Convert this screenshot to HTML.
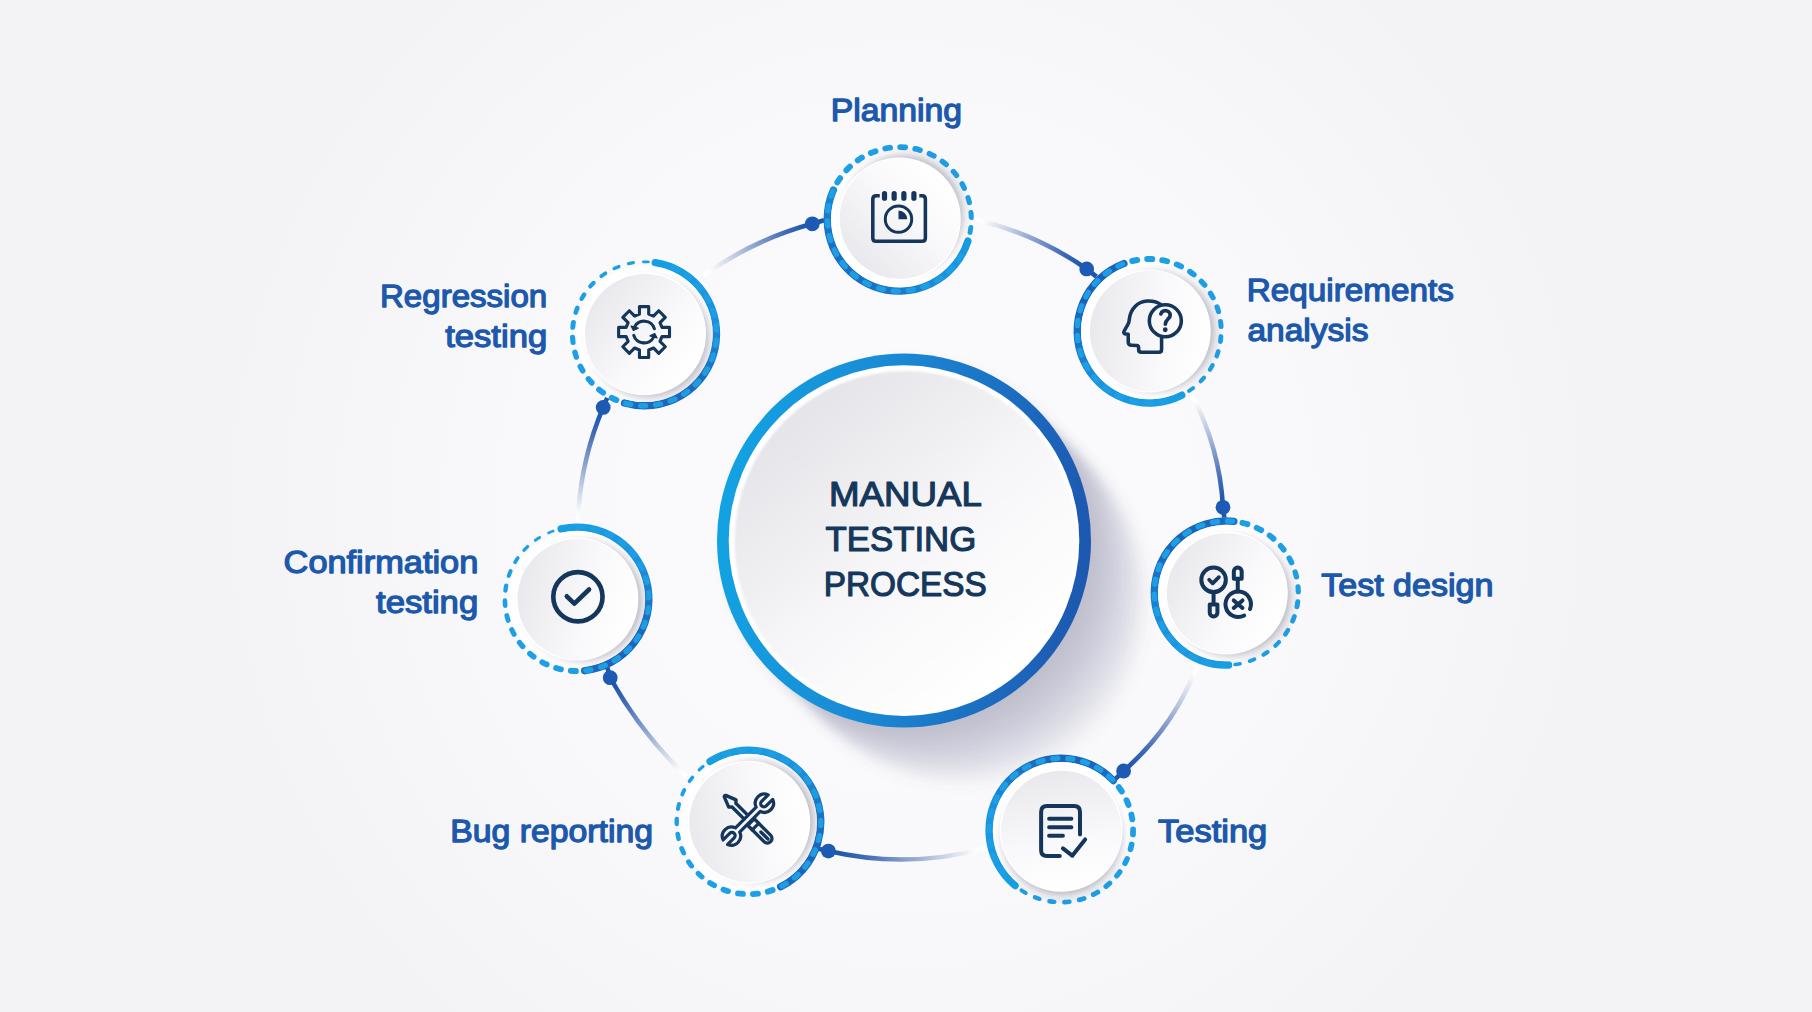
<!DOCTYPE html>
<html lang="en"><head><meta charset="utf-8"><title>Manual testing process</title>
<style>html,body{margin:0;padding:0;background:#f5f5f8;overflow:hidden}svg{display:block}text{font-family:"Liberation Sans",sans-serif;font-weight:400;stroke-linejoin:round}</style></head>
<body><svg width="1812" height="1012" viewBox="0 0 1812 1012"><defs><radialGradient id="bg" cx="906" cy="506" r="700" gradientUnits="userSpaceOnUse">
<stop offset="0" stop-color="#fbfbfd"/><stop offset="0.55" stop-color="#f9f9fb"/><stop offset="1" stop-color="#f3f3f5"/></radialGradient><filter id="dotb" x="-50%" y="-50%" width="200%" height="200%"><feGaussianBlur stdDeviation="0.5"/></filter><linearGradient id="cg0" gradientUnits="userSpaceOnUse" x1="703.7" y1="275.4" x2="812.3" y2="223.8"><stop offset="0" stop-color="#ffffff"/><stop offset="0.07" stop-color="#fbfcfd"/><stop offset="0.16" stop-color="#e4e8f1"/><stop offset="0.28" stop-color="#c6d1e5"/><stop offset="0.5" stop-color="#8aa1cd"/><stop offset="0.77" stop-color="#3f6ab4"/><stop offset="0.93" stop-color="#1f58ad"/><stop offset="1" stop-color="#1d55aa"/></linearGradient><linearGradient id="cg1" gradientUnits="userSpaceOnUse" x1="975.4" y1="219.4" x2="1086.7" y2="268.9"><stop offset="0" stop-color="#ffffff"/><stop offset="0.07" stop-color="#fbfcfd"/><stop offset="0.16" stop-color="#e4e8f1"/><stop offset="0.28" stop-color="#c6d1e5"/><stop offset="0.5" stop-color="#8aa1cd"/><stop offset="0.77" stop-color="#3f6ab4"/><stop offset="0.93" stop-color="#1f58ad"/><stop offset="1" stop-color="#1d55aa"/></linearGradient><linearGradient id="cg2" gradientUnits="userSpaceOnUse" x1="1191.9" y1="395" x2="1223" y2="507.3"><stop offset="0" stop-color="#ffffff"/><stop offset="0.07" stop-color="#fbfcfd"/><stop offset="0.16" stop-color="#e4e8f1"/><stop offset="0.28" stop-color="#c6d1e5"/><stop offset="0.5" stop-color="#8aa1cd"/><stop offset="0.77" stop-color="#3f6ab4"/><stop offset="0.93" stop-color="#1f58ad"/><stop offset="1" stop-color="#1d55aa"/></linearGradient><linearGradient id="cg3" gradientUnits="userSpaceOnUse" x1="1197.2" y1="665.9" x2="1123.6" y2="771"><stop offset="0" stop-color="#ffffff"/><stop offset="0.07" stop-color="#fbfcfd"/><stop offset="0.16" stop-color="#e4e8f1"/><stop offset="0.28" stop-color="#c6d1e5"/><stop offset="0.5" stop-color="#8aa1cd"/><stop offset="0.77" stop-color="#3f6ab4"/><stop offset="0.93" stop-color="#1f58ad"/><stop offset="1" stop-color="#1d55aa"/></linearGradient><linearGradient id="cg4" gradientUnits="userSpaceOnUse" x1="985.5" y1="848.1" x2="828.4" y2="851.1"><stop offset="0" stop-color="#ffffff"/><stop offset="0.07" stop-color="#fbfcfd"/><stop offset="0.16" stop-color="#e4e8f1"/><stop offset="0.28" stop-color="#c6d1e5"/><stop offset="0.5" stop-color="#8aa1cd"/><stop offset="0.77" stop-color="#3f6ab4"/><stop offset="0.93" stop-color="#1f58ad"/><stop offset="1" stop-color="#1d55aa"/></linearGradient><linearGradient id="cg5" gradientUnits="userSpaceOnUse" x1="686.5" y1="776.6" x2="610.2" y2="677.7"><stop offset="0" stop-color="#ffffff"/><stop offset="0.07" stop-color="#fbfcfd"/><stop offset="0.16" stop-color="#e4e8f1"/><stop offset="0.28" stop-color="#c6d1e5"/><stop offset="0.5" stop-color="#8aa1cd"/><stop offset="0.77" stop-color="#3f6ab4"/><stop offset="0.93" stop-color="#1f58ad"/><stop offset="1" stop-color="#1d55aa"/></linearGradient><linearGradient id="cg6" gradientUnits="userSpaceOnUse" x1="577.9" y1="521.2" x2="603.2" y2="407.4"><stop offset="0" stop-color="#ffffff"/><stop offset="0.07" stop-color="#fbfcfd"/><stop offset="0.16" stop-color="#e4e8f1"/><stop offset="0.28" stop-color="#c6d1e5"/><stop offset="0.5" stop-color="#8aa1cd"/><stop offset="0.77" stop-color="#3f6ab4"/><stop offset="0.93" stop-color="#1f58ad"/><stop offset="1" stop-color="#1d55aa"/></linearGradient><filter id="bsh" x="-30%" y="-30%" width="170%" height="170%"><feGaussianBlur stdDeviation="14"/></filter><filter id="bsh3" x="-40%" y="-40%" width="190%" height="190%"><feGaussianBlur stdDeviation="24"/></filter><filter id="bsh2" x="-30%" y="-30%" width="170%" height="170%"><feGaussianBlur stdDeviation="6"/></filter><linearGradient id="bring" x1="0" y1="0.45" x2="1" y2="0.55"><stop offset="0" stop-color="#12a3e3"/><stop offset="0.45" stop-color="#1a88d4"/><stop offset="1" stop-color="#1d57b0"/></linearGradient><linearGradient id="bfill" x1="0.15" y1="0.1" x2="0.8" y2="0.9"><stop offset="0" stop-color="#e3e3e8"/><stop offset="0.55" stop-color="#f7f7f9"/><stop offset="1" stop-color="#ffffff"/></linearGradient><filter id="lsh" x="-20%" y="-20%" width="160%" height="160%"><feGaussianBlur stdDeviation="6"/></filter><filter id="soft" x="-10%" y="-10%" width="120%" height="120%"><feGaussianBlur stdDeviation="0.9"/></filter><filter id="dsh" x="-30%" y="-30%" width="160%" height="160%"><feGaussianBlur stdDeviation="5"/></filter><linearGradient id="ng0" gradientUnits="userSpaceOnUse" x1="950.83" y1="168.81" x2="847.77" y2="269.39"><stop offset="0" stop-color="#16a0e3"/><stop offset="0.55" stop-color="#1a93dd"/><stop offset="1" stop-color="#1b6cc2"/></linearGradient><linearGradient id="dg0" gradientUnits="userSpaceOnUse" x1="856.17" y1="262.23" x2="942.43" y2="175.97"><stop offset="0" stop-color="#e9e9ed"/><stop offset="0.6" stop-color="#f9f9fb"/><stop offset="1" stop-color="#ffffff"/></linearGradient><linearGradient id="ng1" gradientUnits="userSpaceOnUse" x1="1204.84" y1="376.7" x2="1093.56" y2="285.3"><stop offset="0" stop-color="#16a0e3"/><stop offset="0.55" stop-color="#1a93dd"/><stop offset="1" stop-color="#1b60b8"/></linearGradient><linearGradient id="dg1" gradientUnits="userSpaceOnUse" x1="1088.43" y1="325.68" x2="1209.97" y2="336.32"><stop offset="0" stop-color="#e9e9ed"/><stop offset="0.6" stop-color="#f9f9fb"/><stop offset="1" stop-color="#ffffff"/></linearGradient><linearGradient id="ng2" gradientUnits="userSpaceOnUse" x1="1268.62" y1="651.3" x2="1183.98" y2="534.8"><stop offset="0" stop-color="#16a0e3"/><stop offset="0.55" stop-color="#1a93dd"/><stop offset="1" stop-color="#1b64bb"/></linearGradient><linearGradient id="dg2" gradientUnits="userSpaceOnUse" x1="1173.47" y1="562.55" x2="1279.13" y2="623.55"><stop offset="0" stop-color="#e9e9ed"/><stop offset="0.6" stop-color="#f9f9fb"/><stop offset="1" stop-color="#ffffff"/></linearGradient><linearGradient id="ng3" gradientUnits="userSpaceOnUse" x1="1048.1" y1="901.02" x2="1074.1" y2="759.38"><stop offset="0" stop-color="#16a0e3"/><stop offset="0.55" stop-color="#1a93dd"/><stop offset="1" stop-color="#1b64bb"/></linearGradient><linearGradient id="dg3" gradientUnits="userSpaceOnUse" x1="1050.51" y1="770.13" x2="1071.69" y2="890.27"><stop offset="0" stop-color="#e9e9ed"/><stop offset="0.6" stop-color="#f9f9fb"/><stop offset="1" stop-color="#ffffff"/></linearGradient><linearGradient id="ng4" gradientUnits="userSpaceOnUse" x1="690.16" y1="780.29" x2="807.24" y2="864.11"><stop offset="0" stop-color="#16a0e3"/><stop offset="0.55" stop-color="#1a93dd"/><stop offset="1" stop-color="#1b64bb"/></linearGradient><linearGradient id="dg4" gradientUnits="userSpaceOnUse" x1="688.63" y1="832.79" x2="808.77" y2="811.61"><stop offset="0" stop-color="#e9e9ed"/><stop offset="0.6" stop-color="#f9f9fb"/><stop offset="1" stop-color="#ffffff"/></linearGradient><linearGradient id="ng5" gradientUnits="userSpaceOnUse" x1="534.38" y1="541" x2="619.42" y2="657.2"><stop offset="0" stop-color="#16a0e3"/><stop offset="0.55" stop-color="#1a93dd"/><stop offset="1" stop-color="#1b64bb"/></linearGradient><linearGradient id="dg5" gradientUnits="userSpaceOnUse" x1="517.98" y1="583.31" x2="635.82" y2="614.89"><stop offset="0" stop-color="#e9e9ed"/><stop offset="0.6" stop-color="#f9f9fb"/><stop offset="1" stop-color="#ffffff"/></linearGradient><linearGradient id="ng6" gradientUnits="userSpaceOnUse" x1="619.99" y1="266.1" x2="669.01" y2="401.5"><stop offset="0" stop-color="#16a0e3"/><stop offset="0.55" stop-color="#1a93dd"/><stop offset="1" stop-color="#1b66bd"/></linearGradient><linearGradient id="dg6" gradientUnits="userSpaceOnUse" x1="597.77" y1="294.59" x2="691.23" y2="373.01"><stop offset="0" stop-color="#e9e9ed"/><stop offset="0.6" stop-color="#f9f9fb"/><stop offset="1" stop-color="#ffffff"/></linearGradient></defs>
<rect width="1812" height="1012" fill="url(#bg)"/>
<path d="M703.7,275.4 A337.73,337.73 0 0 1 812.3,223.8 L824.1,220.2" fill="none" stroke="url(#cg0)" stroke-width="4.6" stroke-linecap="butt"/>
<circle cx="812.3" cy="223.8" r="7.4" fill="#1e5ab4" filter="url(#dotb)"/>
<path d="M975.4,219.4 A328.88,328.88 0 0 1 1086.7,268.9 L1096.4,276.6" fill="none" stroke="url(#cg1)" stroke-width="4.6" stroke-linecap="butt"/>
<circle cx="1086.7" cy="268.9" r="7.4" fill="#1e5ab4" filter="url(#dotb)"/>
<path d="M1191.9,395 A272.74,272.74 0 0 1 1223,507.3 L1224.3,517.5" fill="none" stroke="url(#cg2)" stroke-width="4.6" stroke-linecap="butt"/>
<circle cx="1223" cy="507.3" r="7.4" fill="#1e5ab4" filter="url(#dotb)"/>
<path d="M1197.2,665.9 A267.81,267.81 0 0 1 1123.6,771 L1114.9,779.3" fill="none" stroke="url(#cg3)" stroke-width="4.6" stroke-linecap="butt"/>
<circle cx="1123.6" cy="771" r="7.4" fill="#1e5ab4" filter="url(#dotb)"/>
<path d="M985.5,848.1 A320.91,320.91 0 0 1 828.4,851.1 L818.3,848.7" fill="none" stroke="url(#cg4)" stroke-width="4.6" stroke-linecap="butt"/>
<circle cx="828.4" cy="851.1" r="7.4" fill="#1e5ab4" filter="url(#dotb)"/>
<path d="M686.5,776.6 A413.69,413.69 0 0 1 610.2,677.7 L607,666.6" fill="none" stroke="url(#cg5)" stroke-width="4.6" stroke-linecap="butt"/>
<circle cx="610.2" cy="677.7" r="7.4" fill="#1e5ab4" filter="url(#dotb)"/>
<path d="M577.9,521.2 A321.85,321.85 0 0 1 603.2,407.4 L607.2,397.9" fill="none" stroke="url(#cg6)" stroke-width="4.6" stroke-linecap="butt"/>
<circle cx="603.2" cy="407.4" r="7.4" fill="#1e5ab4" filter="url(#dotb)"/>
<g filter="url(#lsh)"><circle cx="907" cy="543.6" r="186" fill="#6d6d85" opacity="0.026"/><circle cx="910" cy="546.6" r="186" fill="#6d6d85" opacity="0.026"/><circle cx="913" cy="549.6" r="186" fill="#6d6d85" opacity="0.026"/><circle cx="916" cy="552.6" r="186" fill="#6d6d85" opacity="0.026"/><circle cx="919" cy="555.6" r="186" fill="#6d6d85" opacity="0.026"/><circle cx="922" cy="558.6" r="186" fill="#6d6d85" opacity="0.026"/><circle cx="925" cy="561.6" r="186" fill="#6d6d85" opacity="0.026"/><circle cx="928" cy="564.6" r="186" fill="#6d6d85" opacity="0.026"/><circle cx="931" cy="567.6" r="186" fill="#6d6d85" opacity="0.026"/><circle cx="934" cy="570.6" r="186" fill="#6d6d85" opacity="0.026"/><circle cx="937" cy="573.6" r="186" fill="#6d6d85" opacity="0.026"/><circle cx="940" cy="576.6" r="186" fill="#6d6d85" opacity="0.026"/><circle cx="943" cy="579.6" r="186" fill="#6d6d85" opacity="0.026"/><circle cx="946" cy="582.6" r="186" fill="#6d6d85" opacity="0.026"/><circle cx="949" cy="585.6" r="186" fill="#6d6d85" opacity="0.026"/><circle cx="952" cy="588.6" r="186" fill="#6d6d85" opacity="0.026"/><circle cx="955" cy="591.6" r="186" fill="#6d6d85" opacity="0.026"/><circle cx="958" cy="594.6" r="186" fill="#6d6d85" opacity="0.026"/><circle cx="961" cy="597.6" r="186" fill="#6d6d85" opacity="0.026"/><circle cx="964" cy="600.6" r="186" fill="#6d6d85" opacity="0.026"/></g>
<circle cx="904" cy="540.6" r="187" fill="url(#bring)"/>
<circle cx="904" cy="540.6" r="175.3" fill="#ffffff"/>
<circle cx="905.5" cy="542.1" r="171" fill="url(#bfill)" filter="url(#soft)"/>
<path d="M967.85,241.11 A72,72 0 1 1 833.37,190.16" fill="none" stroke="url(#ng0)" stroke-width="7.4" stroke-linecap="round"/>
<path d="M837.39,182.34 A72,72 0 0 1 840.11,178.11" fill="none" stroke="#1c9fe5" stroke-width="5.99" stroke-linecap="round"/>
<path d="M846.39,170.27 A72,72 0 0 1 849.92,166.7" fill="none" stroke="#1c9fe5" stroke-width="5.95" stroke-linecap="round"/>
<path d="M857.69,160.34 A72,72 0 0 1 861.89,157.58" fill="none" stroke="#1c9fe5" stroke-width="5.9" stroke-linecap="round"/>
<path d="M870.82,152.97 A72,72 0 0 1 875.5,151.15" fill="none" stroke="#1c9fe5" stroke-width="5.84" stroke-linecap="round"/>
<path d="M885.19,148.5 A72,72 0 0 1 890.15,147.68" fill="none" stroke="#1c9fe5" stroke-width="5.78" stroke-linecap="round"/>
<path d="M900.18,147.11 A72,72 0 0 1 905.2,147.34" fill="none" stroke="#1c9fe5" stroke-width="5.7" stroke-linecap="round"/>
<path d="M915.13,148.86 A72,72 0 0 1 919.99,150.14" fill="none" stroke="#1c9fe5" stroke-width="5.62" stroke-linecap="round"/>
<path d="M929.39,153.69 A72,72 0 0 1 933.88,155.95" fill="none" stroke="#1c9fe5" stroke-width="5.53" stroke-linecap="round"/>
<path d="M942.33,161.37 A72,72 0 0 1 946.25,164.51" fill="none" stroke="#1c9fe5" stroke-width="5.44" stroke-linecap="round"/>
<path d="M953.39,171.58 A72,72 0 0 1 956.57,175.47" fill="none" stroke="#1c9fe5" stroke-width="5.34" stroke-linecap="round"/>
<path d="M962.09,183.86 A72,72 0 0 1 964.39,188.33" fill="none" stroke="#1c9fe5" stroke-width="5.23" stroke-linecap="round"/>
<path d="M968.04,197.69 A72,72 0 0 1 969.37,202.54" fill="none" stroke="#1c9fe5" stroke-width="5.13" stroke-linecap="round"/>
<path d="M970.99,212.45 A72,72 0 0 1 971.28,217.47" fill="none" stroke="#1c9fe5" stroke-width="5.01" stroke-linecap="round"/>
<path d="M970.81,227.5 A72,72 0 0 1 970.05,232.47" fill="none" stroke="#1c9fe5" stroke-width="4.89" stroke-linecap="round"/>
<path d="M831.1,196.02 A72,72 0 0 1 832.88,191.31" fill="none" stroke="#1c9fe5" stroke-width="5.4" stroke-linecap="round"/>
<path d="M827.79,210.7 A72,72 0 0 1 828.55,205.73" fill="none" stroke="#1c9fe5" stroke-width="5.4" stroke-linecap="round"/>
<path d="M827.61,225.75 A72,72 0 0 1 827.32,220.73" fill="none" stroke="#1c9fe5" stroke-width="5.4" stroke-linecap="round"/>
<path d="M830.56,240.51 A72,72 0 0 1 829.23,235.66" fill="none" stroke="#1c9fe5" stroke-width="5.4" stroke-linecap="round"/>
<path d="M836.51,254.34 A72,72 0 0 1 834.21,249.87" fill="none" stroke="#1c9fe5" stroke-width="5.4" stroke-linecap="round"/>
<path d="M845.21,266.62 A72,72 0 0 1 842.03,262.73" fill="none" stroke="#1c9fe5" stroke-width="5.4" stroke-linecap="round"/>
<path d="M856.27,276.83 A72,72 0 0 1 852.35,273.69" fill="none" stroke="#1c9fe5" stroke-width="5.4" stroke-linecap="round"/>
<path d="M869.21,284.51 A72,72 0 0 1 864.72,282.25" fill="none" stroke="#1c9fe5" stroke-width="5.4" stroke-linecap="round"/>
<path d="M883.47,289.34 A72,72 0 0 1 878.61,288.06" fill="none" stroke="#1c9fe5" stroke-width="5.4" stroke-linecap="round"/>
<path d="M898.42,291.09 A72,72 0 0 1 893.4,290.86" fill="none" stroke="#1c9fe5" stroke-width="5.4" stroke-linecap="round"/>
<path d="M913.41,289.7 A72,72 0 0 1 908.45,290.52" fill="none" stroke="#1c9fe5" stroke-width="5.4" stroke-linecap="round"/>
<path d="M927.78,285.23 A72,72 0 0 1 923.1,287.05" fill="none" stroke="#1c9fe5" stroke-width="5.4" stroke-linecap="round"/>
<path d="M940.91,277.86 A72,72 0 0 1 936.71,280.62" fill="none" stroke="#1c9fe5" stroke-width="5.4" stroke-linecap="round"/>
<path d="M952.21,267.93 A72,72 0 0 1 948.68,271.5" fill="none" stroke="#1c9fe5" stroke-width="5.4" stroke-linecap="round"/>
<path d="M961.21,255.86 A72,72 0 0 1 958.49,260.09" fill="none" stroke="#1c9fe5" stroke-width="5.4" stroke-linecap="round"/>
<circle cx="899.3" cy="219.1" r="68.2" fill="#ffffff" opacity="0.85"/>
<circle cx="904.25" cy="214.15" r="59" fill="#5f5f78" opacity="0.44" filter="url(#dsh)"/>
<circle cx="899.3" cy="219.1" r="61.5" fill="#ffffff"/>
<circle cx="899.87" cy="218.53" r="60.2" fill="url(#dg0)"/>
<path d="M1181.78,395.21 A72,72 0 1 1 1123.87,263.6" fill="none" stroke="url(#ng1)" stroke-width="7.4" stroke-linecap="round"/>
<path d="M1132.27,261.02 A72,72 0 0 1 1137.19,260.01" fill="none" stroke="#1c9fe5" stroke-width="5.97" stroke-linecap="round"/>
<path d="M1147.19,259.03 A72,72 0 0 1 1152.22,259.06" fill="none" stroke="#1c9fe5" stroke-width="5.91" stroke-linecap="round"/>
<path d="M1162.2,260.18 A72,72 0 0 1 1167.11,261.26" fill="none" stroke="#1c9fe5" stroke-width="5.82" stroke-linecap="round"/>
<path d="M1176.64,264.43 A72,72 0 0 1 1181.21,266.51" fill="none" stroke="#1c9fe5" stroke-width="5.71" stroke-linecap="round"/>
<path d="M1189.88,271.59 A72,72 0 0 1 1193.92,274.57" fill="none" stroke="#1c9fe5" stroke-width="5.59" stroke-linecap="round"/>
<path d="M1201.34,281.35 A72,72 0 0 1 1204.68,285.11" fill="none" stroke="#1c9fe5" stroke-width="5.45" stroke-linecap="round"/>
<path d="M1210.52,293.27 A72,72 0 0 1 1213.01,297.64" fill="none" stroke="#1c9fe5" stroke-width="5.3" stroke-linecap="round"/>
<path d="M1217.03,306.85 A72,72 0 0 1 1218.55,311.64" fill="none" stroke="#1c9fe5" stroke-width="5.14" stroke-linecap="round"/>
<path d="M1220.57,321.48 A72,72 0 0 1 1221.06,326.48" fill="none" stroke="#1c9fe5" stroke-width="4.97" stroke-linecap="round"/>
<path d="M1220.99,336.52 A72,72 0 0 1 1220.43,341.52" fill="none" stroke="#1c9fe5" stroke-width="4.78" stroke-linecap="round"/>
<path d="M1218.27,351.33 A72,72 0 0 1 1216.68,356.1" fill="none" stroke="#1c9fe5" stroke-width="4.59" stroke-linecap="round"/>
<path d="M1212.53,365.24 A72,72 0 0 1 1209.99,369.58" fill="none" stroke="#1c9fe5" stroke-width="4.39" stroke-linecap="round"/>
<path d="M1204.03,377.66 A72,72 0 0 1 1200.64,381.38" fill="none" stroke="#1c9fe5" stroke-width="4.18" stroke-linecap="round"/>
<path d="M1193.13,388.04 A72,72 0 0 1 1189.04,390.97" fill="none" stroke="#1c9fe5" stroke-width="3.96" stroke-linecap="round"/>
<path d="M1118.09,266.07 A72,72 0 0 1 1122.7,264.06" fill="none" stroke="#1c9fe5" stroke-width="5.4" stroke-linecap="round"/>
<path d="M1105.27,273.96 A72,72 0 0 1 1109.36,271.03" fill="none" stroke="#1c9fe5" stroke-width="5.4" stroke-linecap="round"/>
<path d="M1094.37,284.34 A72,72 0 0 1 1097.76,280.62" fill="none" stroke="#1c9fe5" stroke-width="5.4" stroke-linecap="round"/>
<path d="M1085.87,296.76 A72,72 0 0 1 1088.41,292.42" fill="none" stroke="#1c9fe5" stroke-width="5.4" stroke-linecap="round"/>
<path d="M1080.13,310.67 A72,72 0 0 1 1081.72,305.9" fill="none" stroke="#1c9fe5" stroke-width="5.4" stroke-linecap="round"/>
<path d="M1077.41,325.48 A72,72 0 0 1 1077.97,320.48" fill="none" stroke="#1c9fe5" stroke-width="5.4" stroke-linecap="round"/>
<path d="M1077.83,340.52 A72,72 0 0 1 1077.34,335.52" fill="none" stroke="#1c9fe5" stroke-width="5.4" stroke-linecap="round"/>
<path d="M1081.37,355.15 A72,72 0 0 1 1079.85,350.36" fill="none" stroke="#1c9fe5" stroke-width="5.4" stroke-linecap="round"/>
<path d="M1087.88,368.73 A72,72 0 0 1 1085.39,364.36" fill="none" stroke="#1c9fe5" stroke-width="5.4" stroke-linecap="round"/>
<path d="M1097.06,380.65 A72,72 0 0 1 1093.72,376.89" fill="none" stroke="#1c9fe5" stroke-width="5.4" stroke-linecap="round"/>
<path d="M1108.52,390.41 A72,72 0 0 1 1104.48,387.43" fill="none" stroke="#1c9fe5" stroke-width="5.4" stroke-linecap="round"/>
<path d="M1121.76,397.57 A72,72 0 0 1 1117.19,395.49" fill="none" stroke="#1c9fe5" stroke-width="5.4" stroke-linecap="round"/>
<path d="M1136.2,401.82 A72,72 0 0 1 1131.29,400.74" fill="none" stroke="#1c9fe5" stroke-width="5.4" stroke-linecap="round"/>
<path d="M1151.21,402.97 A72,72 0 0 1 1146.18,402.94" fill="none" stroke="#1c9fe5" stroke-width="5.4" stroke-linecap="round"/>
<path d="M1166.13,400.98 A72,72 0 0 1 1161.21,401.99" fill="none" stroke="#1c9fe5" stroke-width="5.4" stroke-linecap="round"/>
<circle cx="1149.2" cy="331" r="68.2" fill="#ffffff" opacity="0.85"/>
<circle cx="1156.17" cy="331.61" r="59" fill="#5f5f78" opacity="0.44" filter="url(#dsh)"/>
<circle cx="1149.2" cy="331" r="61.5" fill="#ffffff"/>
<circle cx="1150" cy="331.07" r="60.2" fill="url(#dg1)"/>
<path d="M1228.56,665.01 A72,72 0 1 1 1233.83,521.44" fill="none" stroke="url(#ng2)" stroke-width="7.4" stroke-linecap="round"/>
<path d="M1242.5,522.9 A72,72 0 0 1 1247.35,524.2" fill="none" stroke="#1c9fe5" stroke-width="5.97" stroke-linecap="round"/>
<path d="M1256.73,527.8 A72,72 0 0 1 1261.21,530.08" fill="none" stroke="#1c9fe5" stroke-width="5.89" stroke-linecap="round"/>
<path d="M1269.63,535.55 A72,72 0 0 1 1273.54,538.71" fill="none" stroke="#1c9fe5" stroke-width="5.78" stroke-linecap="round"/>
<path d="M1280.64,545.81 A72,72 0 0 1 1283.8,549.72" fill="none" stroke="#1c9fe5" stroke-width="5.65" stroke-linecap="round"/>
<path d="M1289.27,558.14 A72,72 0 0 1 1291.55,562.62" fill="none" stroke="#1c9fe5" stroke-width="5.5" stroke-linecap="round"/>
<path d="M1295.15,572 A72,72 0 0 1 1296.45,576.85" fill="none" stroke="#1c9fe5" stroke-width="5.34" stroke-linecap="round"/>
<path d="M1298.03,586.77 A72,72 0 0 1 1298.29,591.79" fill="none" stroke="#1c9fe5" stroke-width="5.16" stroke-linecap="round"/>
<path d="M1297.76,601.82 A72,72 0 0 1 1296.98,606.79" fill="none" stroke="#1c9fe5" stroke-width="4.97" stroke-linecap="round"/>
<path d="M1294.38,616.49 A72,72 0 0 1 1292.58,621.18" fill="none" stroke="#1c9fe5" stroke-width="4.76" stroke-linecap="round"/>
<path d="M1288.02,630.13 A72,72 0 0 1 1285.28,634.35" fill="none" stroke="#1c9fe5" stroke-width="4.54" stroke-linecap="round"/>
<path d="M1278.96,642.15 A72,72 0 0 1 1275.4,645.71" fill="none" stroke="#1c9fe5" stroke-width="4.31" stroke-linecap="round"/>
<path d="M1267.6,652.03 A72,72 0 0 1 1263.38,654.77" fill="none" stroke="#1c9fe5" stroke-width="4.07" stroke-linecap="round"/>
<path d="M1254.43,659.33 A72,72 0 0 1 1249.74,661.13" fill="none" stroke="#1c9fe5" stroke-width="3.82" stroke-linecap="round"/>
<path d="M1240.04,663.73 A72,72 0 0 1 1235.07,664.51" fill="none" stroke="#1c9fe5" stroke-width="3.56" stroke-linecap="round"/>
<path d="M1227.56,521.06 A72,72 0 0 1 1232.58,521.32" fill="none" stroke="#1c9fe5" stroke-width="5.4" stroke-linecap="round"/>
<path d="M1212.56,522.37 A72,72 0 0 1 1217.53,521.59" fill="none" stroke="#1c9fe5" stroke-width="5.4" stroke-linecap="round"/>
<path d="M1198.17,526.77 A72,72 0 0 1 1202.86,524.97" fill="none" stroke="#1c9fe5" stroke-width="5.4" stroke-linecap="round"/>
<path d="M1185,534.07 A72,72 0 0 1 1189.22,531.33" fill="none" stroke="#1c9fe5" stroke-width="5.4" stroke-linecap="round"/>
<path d="M1173.64,543.95 A72,72 0 0 1 1177.2,540.39" fill="none" stroke="#1c9fe5" stroke-width="5.4" stroke-linecap="round"/>
<path d="M1164.58,555.97 A72,72 0 0 1 1167.32,551.75" fill="none" stroke="#1c9fe5" stroke-width="5.4" stroke-linecap="round"/>
<path d="M1158.22,569.61 A72,72 0 0 1 1160.02,564.92" fill="none" stroke="#1c9fe5" stroke-width="5.4" stroke-linecap="round"/>
<path d="M1154.84,584.28 A72,72 0 0 1 1155.62,579.31" fill="none" stroke="#1c9fe5" stroke-width="5.4" stroke-linecap="round"/>
<path d="M1154.57,599.33 A72,72 0 0 1 1154.31,594.31" fill="none" stroke="#1c9fe5" stroke-width="5.4" stroke-linecap="round"/>
<path d="M1157.45,614.1 A72,72 0 0 1 1156.15,609.25" fill="none" stroke="#1c9fe5" stroke-width="5.4" stroke-linecap="round"/>
<path d="M1163.33,627.96 A72,72 0 0 1 1161.05,623.48" fill="none" stroke="#1c9fe5" stroke-width="5.4" stroke-linecap="round"/>
<path d="M1171.96,640.29 A72,72 0 0 1 1168.8,636.38" fill="none" stroke="#1c9fe5" stroke-width="5.4" stroke-linecap="round"/>
<path d="M1182.97,650.55 A72,72 0 0 1 1179.06,647.39" fill="none" stroke="#1c9fe5" stroke-width="5.4" stroke-linecap="round"/>
<path d="M1195.87,658.3 A72,72 0 0 1 1191.39,656.02" fill="none" stroke="#1c9fe5" stroke-width="5.4" stroke-linecap="round"/>
<path d="M1210.1,663.2 A72,72 0 0 1 1205.25,661.9" fill="none" stroke="#1c9fe5" stroke-width="5.4" stroke-linecap="round"/>
<circle cx="1226.3" cy="593.05" r="68.2" fill="#ffffff" opacity="0.85"/>
<circle cx="1232.36" cy="596.55" r="59" fill="#5f5f78" opacity="0.44" filter="url(#dsh)"/>
<circle cx="1226.3" cy="593.05" r="61.5" fill="#ffffff"/>
<circle cx="1226.99" cy="593.45" r="60.2" fill="url(#dg2)"/>
<path d="M1015.01,885.52 A72,72 0 1 1 1113.24,780.55" fill="none" stroke="url(#ng3)" stroke-width="7.4" stroke-linecap="round"/>
<path d="M1118.9,787.27 A72,72 0 0 1 1121.76,791.41" fill="none" stroke="#1c9fe5" stroke-width="5.97" stroke-linecap="round"/>
<path d="M1126.56,800.23 A72,72 0 0 1 1128.5,804.87" fill="none" stroke="#1c9fe5" stroke-width="5.91" stroke-linecap="round"/>
<path d="M1131.37,814.49 A72,72 0 0 1 1132.29,819.43" fill="none" stroke="#1c9fe5" stroke-width="5.82" stroke-linecap="round"/>
<path d="M1133.1,829.45 A72,72 0 0 1 1132.97,834.47" fill="none" stroke="#1c9fe5" stroke-width="5.71" stroke-linecap="round"/>
<path d="M1131.68,844.43 A72,72 0 0 1 1130.51,849.32" fill="none" stroke="#1c9fe5" stroke-width="5.59" stroke-linecap="round"/>
<path d="M1127.18,858.79 A72,72 0 0 1 1125.02,863.33" fill="none" stroke="#1c9fe5" stroke-width="5.45" stroke-linecap="round"/>
<path d="M1119.79,871.91 A72,72 0 0 1 1116.74,875.9" fill="none" stroke="#1c9fe5" stroke-width="5.3" stroke-linecap="round"/>
<path d="M1109.84,883.2 A72,72 0 0 1 1106.02,886.47" fill="none" stroke="#1c9fe5" stroke-width="5.14" stroke-linecap="round"/>
<path d="M1097.75,892.17 A72,72 0 0 1 1093.34,894.58" fill="none" stroke="#1c9fe5" stroke-width="4.96" stroke-linecap="round"/>
<path d="M1084.07,898.44 A72,72 0 0 1 1079.25,899.88" fill="none" stroke="#1c9fe5" stroke-width="4.78" stroke-linecap="round"/>
<path d="M1069.38,901.72 A72,72 0 0 1 1064.37,902.13" fill="none" stroke="#1c9fe5" stroke-width="4.59" stroke-linecap="round"/>
<path d="M1054.32,901.88 A72,72 0 0 1 1049.34,901.23" fill="none" stroke="#1c9fe5" stroke-width="4.39" stroke-linecap="round"/>
<path d="M1039.57,898.91 A72,72 0 0 1 1034.83,897.24" fill="none" stroke="#1c9fe5" stroke-width="4.18" stroke-linecap="round"/>
<path d="M1025.75,892.93 A72,72 0 0 1 1021.47,890.31" fill="none" stroke="#1c9fe5" stroke-width="3.96" stroke-linecap="round"/>
<path d="M1108.71,776.19 A72,72 0 0 1 1112.37,779.64" fill="none" stroke="#1c9fe5" stroke-width="5.4" stroke-linecap="round"/>
<path d="M1096.45,767.47 A72,72 0 0 1 1100.73,770.09" fill="none" stroke="#1c9fe5" stroke-width="5.4" stroke-linecap="round"/>
<path d="M1082.63,761.49 A72,72 0 0 1 1087.37,763.16" fill="none" stroke="#1c9fe5" stroke-width="5.4" stroke-linecap="round"/>
<path d="M1067.88,758.52 A72,72 0 0 1 1072.86,759.17" fill="none" stroke="#1c9fe5" stroke-width="5.4" stroke-linecap="round"/>
<path d="M1052.82,758.68 A72,72 0 0 1 1057.83,758.27" fill="none" stroke="#1c9fe5" stroke-width="5.4" stroke-linecap="round"/>
<path d="M1038.13,761.96 A72,72 0 0 1 1042.95,760.52" fill="none" stroke="#1c9fe5" stroke-width="5.4" stroke-linecap="round"/>
<path d="M1024.45,768.23 A72,72 0 0 1 1028.86,765.82" fill="none" stroke="#1c9fe5" stroke-width="5.4" stroke-linecap="round"/>
<path d="M1012.36,777.2 A72,72 0 0 1 1016.18,773.93" fill="none" stroke="#1c9fe5" stroke-width="5.4" stroke-linecap="round"/>
<path d="M1002.41,788.49 A72,72 0 0 1 1005.46,784.5" fill="none" stroke="#1c9fe5" stroke-width="5.4" stroke-linecap="round"/>
<path d="M995.02,801.61 A72,72 0 0 1 997.18,797.07" fill="none" stroke="#1c9fe5" stroke-width="5.4" stroke-linecap="round"/>
<path d="M990.52,815.97 A72,72 0 0 1 991.69,811.08" fill="none" stroke="#1c9fe5" stroke-width="5.4" stroke-linecap="round"/>
<path d="M989.1,830.95 A72,72 0 0 1 989.23,825.93" fill="none" stroke="#1c9fe5" stroke-width="5.4" stroke-linecap="round"/>
<path d="M990.83,845.91 A72,72 0 0 1 989.91,840.97" fill="none" stroke="#1c9fe5" stroke-width="5.4" stroke-linecap="round"/>
<path d="M995.64,860.17 A72,72 0 0 1 993.7,855.53" fill="none" stroke="#1c9fe5" stroke-width="5.4" stroke-linecap="round"/>
<path d="M1003.3,873.13 A72,72 0 0 1 1000.44,868.99" fill="none" stroke="#1c9fe5" stroke-width="5.4" stroke-linecap="round"/>
<circle cx="1061.1" cy="830.2" r="68.2" fill="#ffffff" opacity="0.85"/>
<circle cx="1062.32" cy="837.09" r="59" fill="#5f5f78" opacity="0.44" filter="url(#dsh)"/>
<circle cx="1061.1" cy="830.2" r="61.5" fill="#ffffff"/>
<circle cx="1061.24" cy="830.99" r="60.2" fill="url(#dg3)"/>
<path d="M710.12,761.41 A72,72 0 1 1 780.71,886.69" fill="none" stroke="url(#ng4)" stroke-width="7.4" stroke-linecap="round"/>
<path d="M772.62,890.11 A72,72 0 0 1 767.82,891.61" fill="none" stroke="#1c9fe5" stroke-width="5.96" stroke-linecap="round"/>
<path d="M757.97,893.6 A72,72 0 0 1 752.97,894.07" fill="none" stroke="#1c9fe5" stroke-width="5.87" stroke-linecap="round"/>
<path d="M742.93,893.97 A72,72 0 0 1 737.93,893.39" fill="none" stroke="#1c9fe5" stroke-width="5.75" stroke-linecap="round"/>
<path d="M728.13,891.2 A72,72 0 0 1 723.37,889.6" fill="none" stroke="#1c9fe5" stroke-width="5.61" stroke-linecap="round"/>
<path d="M714.23,885.41 A72,72 0 0 1 709.91,882.86" fill="none" stroke="#1c9fe5" stroke-width="5.44" stroke-linecap="round"/>
<path d="M701.84,876.87 A72,72 0 0 1 698.14,873.47" fill="none" stroke="#1c9fe5" stroke-width="5.25" stroke-linecap="round"/>
<path d="M691.5,865.93 A72,72 0 0 1 688.59,861.83" fill="none" stroke="#1c9fe5" stroke-width="5.05" stroke-linecap="round"/>
<path d="M683.66,853.08 A72,72 0 0 1 681.66,848.47" fill="none" stroke="#1c9fe5" stroke-width="4.83" stroke-linecap="round"/>
<path d="M678.66,838.89 A72,72 0 0 1 677.67,833.96" fill="none" stroke="#1c9fe5" stroke-width="4.59" stroke-linecap="round"/>
<path d="M676.72,823.96 A72,72 0 0 1 676.77,818.93" fill="none" stroke="#1c9fe5" stroke-width="4.35" stroke-linecap="round"/>
<path d="M677.93,808.96 A72,72 0 0 1 679.02,804.05" fill="none" stroke="#1c9fe5" stroke-width="4.08" stroke-linecap="round"/>
<path d="M682.23,794.53 A72,72 0 0 1 684.32,789.96" fill="none" stroke="#1c9fe5" stroke-width="3.81" stroke-linecap="round"/>
<path d="M689.43,781.32 A72,72 0 0 1 692.43,777.28" fill="none" stroke="#1c9fe5" stroke-width="3.53" stroke-linecap="round"/>
<path d="M699.23,769.89 A72,72 0 0 1 703,766.56" fill="none" stroke="#1c9fe5" stroke-width="3.23" stroke-linecap="round"/>
<path d="M786.21,883.66 A72,72 0 0 1 781.83,886.12" fill="none" stroke="#1c9fe5" stroke-width="5.4" stroke-linecap="round"/>
<path d="M798.17,874.51 A72,72 0 0 1 794.4,877.84" fill="none" stroke="#1c9fe5" stroke-width="5.4" stroke-linecap="round"/>
<path d="M807.97,863.08 A72,72 0 0 1 804.97,867.12" fill="none" stroke="#1c9fe5" stroke-width="5.4" stroke-linecap="round"/>
<path d="M815.17,849.87 A72,72 0 0 1 813.08,854.44" fill="none" stroke="#1c9fe5" stroke-width="5.4" stroke-linecap="round"/>
<path d="M819.47,835.44 A72,72 0 0 1 818.38,840.35" fill="none" stroke="#1c9fe5" stroke-width="5.4" stroke-linecap="round"/>
<path d="M820.68,820.44 A72,72 0 0 1 820.63,825.47" fill="none" stroke="#1c9fe5" stroke-width="5.4" stroke-linecap="round"/>
<path d="M818.74,805.51 A72,72 0 0 1 819.73,810.44" fill="none" stroke="#1c9fe5" stroke-width="5.4" stroke-linecap="round"/>
<path d="M813.74,791.32 A72,72 0 0 1 815.74,795.93" fill="none" stroke="#1c9fe5" stroke-width="5.4" stroke-linecap="round"/>
<path d="M805.9,778.47 A72,72 0 0 1 808.81,782.57" fill="none" stroke="#1c9fe5" stroke-width="5.4" stroke-linecap="round"/>
<path d="M795.56,767.53 A72,72 0 0 1 799.26,770.93" fill="none" stroke="#1c9fe5" stroke-width="5.4" stroke-linecap="round"/>
<path d="M783.17,758.99 A72,72 0 0 1 787.49,761.54" fill="none" stroke="#1c9fe5" stroke-width="5.4" stroke-linecap="round"/>
<path d="M769.27,753.2 A72,72 0 0 1 774.03,754.8" fill="none" stroke="#1c9fe5" stroke-width="5.4" stroke-linecap="round"/>
<path d="M754.47,750.43 A72,72 0 0 1 759.47,751.01" fill="none" stroke="#1c9fe5" stroke-width="5.4" stroke-linecap="round"/>
<path d="M739.43,750.8 A72,72 0 0 1 744.43,750.33" fill="none" stroke="#1c9fe5" stroke-width="5.4" stroke-linecap="round"/>
<path d="M724.78,754.29 A72,72 0 0 1 729.58,752.79" fill="none" stroke="#1c9fe5" stroke-width="5.4" stroke-linecap="round"/>
<circle cx="748.7" cy="822.2" r="68.2" fill="#ffffff" opacity="0.85"/>
<circle cx="755.59" cy="820.98" r="59" fill="#5f5f78" opacity="0.44" filter="url(#dsh)"/>
<circle cx="748.7" cy="822.2" r="61.5" fill="#ffffff"/>
<circle cx="749.49" cy="822.06" r="60.2" fill="url(#dg4)"/>
<path d="M561.19,528.83 A72,72 0 1 1 584.68,670.68" fill="none" stroke="url(#ng5)" stroke-width="7.4" stroke-linecap="round"/>
<path d="M575.89,671.09 A72,72 0 0 1 570.88,670.85" fill="none" stroke="#1c9fe5" stroke-width="5.96" stroke-linecap="round"/>
<path d="M560.95,669.31 A72,72 0 0 1 556.09,668.03" fill="none" stroke="#1c9fe5" stroke-width="5.85" stroke-linecap="round"/>
<path d="M546.7,664.46 A72,72 0 0 1 542.21,662.19" fill="none" stroke="#1c9fe5" stroke-width="5.7" stroke-linecap="round"/>
<path d="M533.77,656.75 A72,72 0 0 1 529.85,653.6" fill="none" stroke="#1c9fe5" stroke-width="5.52" stroke-linecap="round"/>
<path d="M522.73,646.53 A72,72 0 0 1 519.55,642.63" fill="none" stroke="#1c9fe5" stroke-width="5.32" stroke-linecap="round"/>
<path d="M514.05,634.23 A72,72 0 0 1 511.75,629.76" fill="none" stroke="#1c9fe5" stroke-width="5.1" stroke-linecap="round"/>
<path d="M508.12,620.39 A72,72 0 0 1 506.8,615.54" fill="none" stroke="#1c9fe5" stroke-width="4.85" stroke-linecap="round"/>
<path d="M505.2,605.63 A72,72 0 0 1 504.92,600.61" fill="none" stroke="#1c9fe5" stroke-width="4.59" stroke-linecap="round"/>
<path d="M505.41,590.57 A72,72 0 0 1 506.18,585.61" fill="none" stroke="#1c9fe5" stroke-width="4.31" stroke-linecap="round"/>
<path d="M508.74,575.9 A72,72 0 0 1 510.53,571.2" fill="none" stroke="#1c9fe5" stroke-width="4.01" stroke-linecap="round"/>
<path d="M515.05,562.23 A72,72 0 0 1 517.78,558.01" fill="none" stroke="#1c9fe5" stroke-width="3.69" stroke-linecap="round"/>
<path d="M524.07,550.18 A72,72 0 0 1 527.61,546.61" fill="none" stroke="#1c9fe5" stroke-width="3.36" stroke-linecap="round"/>
<path d="M535.4,540.27 A72,72 0 0 1 539.6,537.51" fill="none" stroke="#1c9fe5" stroke-width="3.02" stroke-linecap="round"/>
<path d="M548.54,532.92 A72,72 0 0 1 553.22,531.1" fill="none" stroke="#1c9fe5" stroke-width="2.66" stroke-linecap="round"/>
<path d="M590.88,669.73 A72,72 0 0 1 585.92,670.53" fill="none" stroke="#1c9fe5" stroke-width="5.4" stroke-linecap="round"/>
<path d="M605.26,665.28 A72,72 0 0 1 600.58,667.1" fill="none" stroke="#1c9fe5" stroke-width="5.4" stroke-linecap="round"/>
<path d="M618.4,657.93 A72,72 0 0 1 614.2,660.69" fill="none" stroke="#1c9fe5" stroke-width="5.4" stroke-linecap="round"/>
<path d="M629.73,648.02 A72,72 0 0 1 626.19,651.59" fill="none" stroke="#1c9fe5" stroke-width="5.4" stroke-linecap="round"/>
<path d="M638.75,635.97 A72,72 0 0 1 636.02,640.19" fill="none" stroke="#1c9fe5" stroke-width="5.4" stroke-linecap="round"/>
<path d="M645.06,622.3 A72,72 0 0 1 643.27,627" fill="none" stroke="#1c9fe5" stroke-width="5.4" stroke-linecap="round"/>
<path d="M648.39,607.63 A72,72 0 0 1 647.62,612.59" fill="none" stroke="#1c9fe5" stroke-width="5.4" stroke-linecap="round"/>
<path d="M648.6,592.57 A72,72 0 0 1 648.88,597.59" fill="none" stroke="#1c9fe5" stroke-width="5.4" stroke-linecap="round"/>
<path d="M645.68,577.81 A72,72 0 0 1 647,582.66" fill="none" stroke="#1c9fe5" stroke-width="5.4" stroke-linecap="round"/>
<path d="M639.75,563.97 A72,72 0 0 1 642.05,568.44" fill="none" stroke="#1c9fe5" stroke-width="5.4" stroke-linecap="round"/>
<path d="M631.07,551.67 A72,72 0 0 1 634.25,555.57" fill="none" stroke="#1c9fe5" stroke-width="5.4" stroke-linecap="round"/>
<path d="M620.03,541.45 A72,72 0 0 1 623.95,544.6" fill="none" stroke="#1c9fe5" stroke-width="5.4" stroke-linecap="round"/>
<path d="M607.1,533.74 A72,72 0 0 1 611.59,536.01" fill="none" stroke="#1c9fe5" stroke-width="5.4" stroke-linecap="round"/>
<path d="M592.85,528.89 A72,72 0 0 1 597.71,530.17" fill="none" stroke="#1c9fe5" stroke-width="5.4" stroke-linecap="round"/>
<path d="M577.91,527.11 A72,72 0 0 1 582.92,527.35" fill="none" stroke="#1c9fe5" stroke-width="5.4" stroke-linecap="round"/>
<circle cx="576.9" cy="599.1" r="68.2" fill="#ffffff" opacity="0.85"/>
<circle cx="583.66" cy="600.91" r="59" fill="#5f5f78" opacity="0.44" filter="url(#dsh)"/>
<circle cx="576.9" cy="599.1" r="61.5" fill="#ffffff"/>
<circle cx="577.67" cy="599.31" r="60.2" fill="url(#dg5)"/>
<path d="M655.27,262.61 A72,72 0 1 1 624.53,402.98" fill="none" stroke="url(#ng6)" stroke-width="7.4" stroke-linecap="round"/>
<path d="M616.25,400.03 A72,72 0 0 1 611.7,397.9" fill="none" stroke="#1c9fe5" stroke-width="5.96" stroke-linecap="round"/>
<path d="M603.1,392.71 A72,72 0 0 1 599.09,389.68" fill="none" stroke="#1c9fe5" stroke-width="5.86" stroke-linecap="round"/>
<path d="M591.76,382.81 A72,72 0 0 1 588.47,379.01" fill="none" stroke="#1c9fe5" stroke-width="5.72" stroke-linecap="round"/>
<path d="M582.72,370.77 A72,72 0 0 1 580.29,366.38" fill="none" stroke="#1c9fe5" stroke-width="5.55" stroke-linecap="round"/>
<path d="M576.38,357.12 A72,72 0 0 1 574.92,352.31" fill="none" stroke="#1c9fe5" stroke-width="5.35" stroke-linecap="round"/>
<path d="M573.02,342.45 A72,72 0 0 1 572.59,337.44" fill="none" stroke="#1c9fe5" stroke-width="5.14" stroke-linecap="round"/>
<path d="M572.79,327.4 A72,72 0 0 1 573.41,322.41" fill="none" stroke="#1c9fe5" stroke-width="4.91" stroke-linecap="round"/>
<path d="M575.68,312.63 A72,72 0 0 1 577.33,307.88" fill="none" stroke="#1c9fe5" stroke-width="4.65" stroke-linecap="round"/>
<path d="M581.59,298.78 A72,72 0 0 1 584.18,294.48" fill="none" stroke="#1c9fe5" stroke-width="4.39" stroke-linecap="round"/>
<path d="M590.24,286.47 A72,72 0 0 1 593.68,282.8" fill="none" stroke="#1c9fe5" stroke-width="4.1" stroke-linecap="round"/>
<path d="M601.27,276.22 A72,72 0 0 1 605.39,273.35" fill="none" stroke="#1c9fe5" stroke-width="3.8" stroke-linecap="round"/>
<path d="M614.19,268.49 A72,72 0 0 1 618.81,266.54" fill="none" stroke="#1c9fe5" stroke-width="3.49" stroke-linecap="round"/>
<path d="M628.43,263.62 A72,72 0 0 1 633.36,262.67" fill="none" stroke="#1c9fe5" stroke-width="3.16" stroke-linecap="round"/>
<path d="M643.37,261.81 A72,72 0 0 1 648.39,261.91" fill="none" stroke="#1c9fe5" stroke-width="2.82" stroke-linecap="round"/>
<path d="M630.64,404.45 A72,72 0 0 1 625.74,403.31" fill="none" stroke="#1c9fe5" stroke-width="5.4" stroke-linecap="round"/>
<path d="M645.63,405.79 A72,72 0 0 1 640.61,405.69" fill="none" stroke="#1c9fe5" stroke-width="5.4" stroke-linecap="round"/>
<path d="M660.57,403.98 A72,72 0 0 1 655.64,404.93" fill="none" stroke="#1c9fe5" stroke-width="5.4" stroke-linecap="round"/>
<path d="M674.81,399.11 A72,72 0 0 1 670.19,401.06" fill="none" stroke="#1c9fe5" stroke-width="5.4" stroke-linecap="round"/>
<path d="M687.73,391.38 A72,72 0 0 1 683.61,394.25" fill="none" stroke="#1c9fe5" stroke-width="5.4" stroke-linecap="round"/>
<path d="M698.76,381.13 A72,72 0 0 1 695.32,384.8" fill="none" stroke="#1c9fe5" stroke-width="5.4" stroke-linecap="round"/>
<path d="M707.41,368.82 A72,72 0 0 1 704.82,373.12" fill="none" stroke="#1c9fe5" stroke-width="5.4" stroke-linecap="round"/>
<path d="M713.32,354.97 A72,72 0 0 1 711.67,359.72" fill="none" stroke="#1c9fe5" stroke-width="5.4" stroke-linecap="round"/>
<path d="M716.21,340.2 A72,72 0 0 1 715.59,345.19" fill="none" stroke="#1c9fe5" stroke-width="5.4" stroke-linecap="round"/>
<path d="M715.98,325.15 A72,72 0 0 1 716.41,330.16" fill="none" stroke="#1c9fe5" stroke-width="5.4" stroke-linecap="round"/>
<path d="M712.62,310.48 A72,72 0 0 1 714.08,315.29" fill="none" stroke="#1c9fe5" stroke-width="5.4" stroke-linecap="round"/>
<path d="M706.28,296.83 A72,72 0 0 1 708.71,301.22" fill="none" stroke="#1c9fe5" stroke-width="5.4" stroke-linecap="round"/>
<path d="M697.24,284.79 A72,72 0 0 1 700.53,288.59" fill="none" stroke="#1c9fe5" stroke-width="5.4" stroke-linecap="round"/>
<path d="M685.9,274.89 A72,72 0 0 1 689.91,277.92" fill="none" stroke="#1c9fe5" stroke-width="5.4" stroke-linecap="round"/>
<path d="M672.75,267.57 A72,72 0 0 1 677.3,269.7" fill="none" stroke="#1c9fe5" stroke-width="5.4" stroke-linecap="round"/>
<circle cx="644.5" cy="333.8" r="68.2" fill="#ffffff" opacity="0.85"/>
<circle cx="649.86" cy="338.3" r="59" fill="#5f5f78" opacity="0.44" filter="url(#dsh)"/>
<circle cx="644.5" cy="333.8" r="61.5" fill="#ffffff"/>
<circle cx="645.11" cy="334.31" r="60.2" fill="url(#dg6)"/>
<g transform="translate(860,180) scale(0.07905)" fill="none" stroke="#14365a" stroke-linecap="round" stroke-linejoin="round">
<path d="M250,200 H205 Q162,200 162,243 V733 Q162,776 205,776 H784 Q827,776 827,733 V243 Q827,200 784,200 H750" stroke-width="45" stroke-linecap="butt"/>
<path d="M310,172 V230 M432,172 V230 M555,172 V230 M682,172 V230" stroke-width="66"/>
<circle cx="487" cy="495" r="167" stroke-width="38"/>
<path d="M487,495 V385 A110,110 0 0 1 597,495 Z" fill="#14365a" stroke="none"/>
</g>
<g transform="translate(1110,285) scale(0.08894)" fill="none" stroke="#14365a" stroke-linecap="round" stroke-linejoin="round">
<path d="M565,215 C520,185 470,178 420,180 C310,185 230,270 218,380 C216,410 212,425 200,445 L158,520 C150,535 158,548 175,550 L205,553 V640 Q205,678 243,678 L300,680 Q322,682 322,705 V725 Q322,757 354,757 H548 Q580,757 580,725 V595" stroke-width="40"/>
<circle cx="622" cy="402" r="180" stroke-width="40"/>
<path d="M572,325 C580,295 610,285 635,290 C670,297 685,330 672,358 C662,380 625,395 622,440" stroke-width="42"/>
<circle cx="621" cy="503" r="27" fill="#14365a" stroke="none"/>
</g>
<g transform="translate(1182,550) scale(0.08894)" fill="none" stroke="#14365a" stroke-linecap="round" stroke-linejoin="round">
<circle cx="355" cy="335" r="138" stroke-width="45"/>
<path d="M305,335 L345,375 L415,305" stroke-width="42"/>
<path d="M355,475 V600" stroke-width="45"/>
<path d="M312,612 H398 V705 A43,43 0 0 1 312,705 Z" stroke-width="45"/>
<path d="M699.1,736.3 A143,143 0 1 1 764.6,663.6" stroke-width="45"/>
<path d="M627,467 V340" stroke-width="45"/>
<path d="M583,322 V240 A44,44 0 0 1 671,240 V322 Z" stroke-width="45"/>
<path d="M582,567 L680,652 M680,567 L582,652" stroke-width="45"/>
</g>
<g transform="translate(1018,787) scale(0.08894)" fill="none" stroke="#14365a" stroke-linecap="round" stroke-linejoin="round">
<path d="M697,535 V280 Q697,215 632,215 H325 Q260,215 260,280 V710 Q260,775 325,775 H470" stroke-width="45"/>
<path d="M350,358 H600 M350,452 H600 M350,548 H505" stroke-width="45"/>
<path d="M505,690 L610,772 L755,590" stroke-width="45"/>
</g>
<g transform="translate(703,775) scale(0.08894)" fill="none" stroke="#14365a" stroke-linecap="round" stroke-linejoin="round"><g transform="translate(242,232) rotate(45)"><path d="M8,-12 L125,-58 L150,-30 H395 M8,12 L125,58 L150,30 H395 M8,-12 A14,14 0 0 0 8,12" stroke-width="38"/><path d="M420,-52 H680 A52,52 0 0 1 680,52 H420 Z" stroke-width="38"/><path d="M492,-52 V52" stroke-width="36"/><path d="M578,0 H690" stroke-width="38"/></g><g transform="translate(505,502) rotate(-45)"><path d="M164.43,-33 A103,103 0 0 1 358.5,-36 L254,-36 A36,36 0 0 0 254,36 L358.5,36 A103,103 0 0 1 164.43,33 L-164.43,33 A103,103 0 0 1 -358.5,36 L-254,36 A36,36 0 0 0 -254,-36 L-358.5,-36 A103,103 0 0 1 -164.43,-33 Z" stroke-width="36" fill="#f4f4f7"/></g></g>
<g transform="translate(533,553) scale(0.08894)" fill="none" stroke="#14365a" stroke-linecap="round" stroke-linejoin="round">
<circle cx="505" cy="492" r="277" stroke-width="52"/>
<path d="M380,487 L465,570 L630,410" stroke-width="52"/>
</g>
<g transform="translate(598,288) scale(0.08894)" fill="none" stroke="#14365a" stroke-linecap="round" stroke-linejoin="round"><path d="M466,293.6 L466,209 L570,209 L570,293.6 L623.64,315.82 L683.46,256 L757,329.54 L697.18,389.36 L719.4,443 L804,443 L804,547 L719.4,547 L697.18,600.64 L757,660.46 L683.46,734 L623.64,674.18 L570,696.4 L570,781 L466,781 L466,696.4 L412.36,674.18 L352.54,734 L279,660.46 L338.82,600.64 L316.6,547 L232,547 L232,443 L316.6,443 L338.82,389.36 L279,329.54 L352.54,256 L412.36,315.82 Z" stroke-width="35" stroke-linejoin="round"/><path d="M634.03,457.3 A122,122 0 0 0 410.28,437.72" stroke-width="35"/><path d="M401.97,532.7 A122,122 0 0 0 625.72,552.28" stroke-width="35"/><path d="M372,428 L452,452 L398,478 Z" fill="#14365a" stroke-width="14"/><path d="M664,562 L584,538 L638,512 Z" fill="#14365a" stroke-width="14"/></g>
<text x="830.73" y="121" font-size="31.7" fill="#1c58ab" stroke="#1c58ab" stroke-width="1.3" textLength="131.32" lengthAdjust="spacingAndGlyphs">Planning</text>
<text x="1246.78" y="301" font-size="31.7" fill="#1c58ab" stroke="#1c58ab" stroke-width="1.3" textLength="207.03" lengthAdjust="spacingAndGlyphs">Requirements</text>
<text x="1247.4" y="341" font-size="31.7" fill="#1c58ab" stroke="#1c58ab" stroke-width="1.3" textLength="121.04" lengthAdjust="spacingAndGlyphs">analysis</text>
<text x="1321.2" y="596" font-size="31.7" fill="#1c58ab" stroke="#1c58ab" stroke-width="1.3" textLength="172.21" lengthAdjust="spacingAndGlyphs">Test design</text>
<text x="1157.99" y="842" font-size="31.7" fill="#1c58ab" stroke="#1c58ab" stroke-width="1.3" textLength="109.25" lengthAdjust="spacingAndGlyphs">Testing</text>
<text x="450.33" y="842" font-size="31.7" fill="#1c58ab" stroke="#1c58ab" stroke-width="1.3" textLength="202.66" lengthAdjust="spacingAndGlyphs">Bug reporting</text>
<text x="283.58" y="573" font-size="31.7" fill="#1c58ab" stroke="#1c58ab" stroke-width="1.3" textLength="194.69" lengthAdjust="spacingAndGlyphs">Confirmation</text>
<text x="376" y="613" font-size="31.7" fill="#1c58ab" stroke="#1c58ab" stroke-width="1.3" textLength="102.19" lengthAdjust="spacingAndGlyphs">testing</text>
<text x="379.99" y="307" font-size="31.7" fill="#1c58ab" stroke="#1c58ab" stroke-width="1.3" textLength="167.23" lengthAdjust="spacingAndGlyphs">Regression</text>
<text x="445.19" y="347" font-size="31.7" fill="#1c58ab" stroke="#1c58ab" stroke-width="1.3" textLength="102.02" lengthAdjust="spacingAndGlyphs">testing</text>
<text x="828.94" y="506" font-size="35.5" fill="#15375b" stroke="#15375b" stroke-width="1.2" textLength="153.05" lengthAdjust="spacingAndGlyphs">MANUAL</text>
<text x="825.59" y="551" font-size="35.5" fill="#15375b" stroke="#15375b" stroke-width="1.2" textLength="150.65" lengthAdjust="spacingAndGlyphs">TESTING</text>
<text x="823.76" y="596" font-size="35.5" fill="#15375b" stroke="#15375b" stroke-width="1.2" textLength="162.85" lengthAdjust="spacingAndGlyphs">PROCESS</text>
</svg></body></html>
